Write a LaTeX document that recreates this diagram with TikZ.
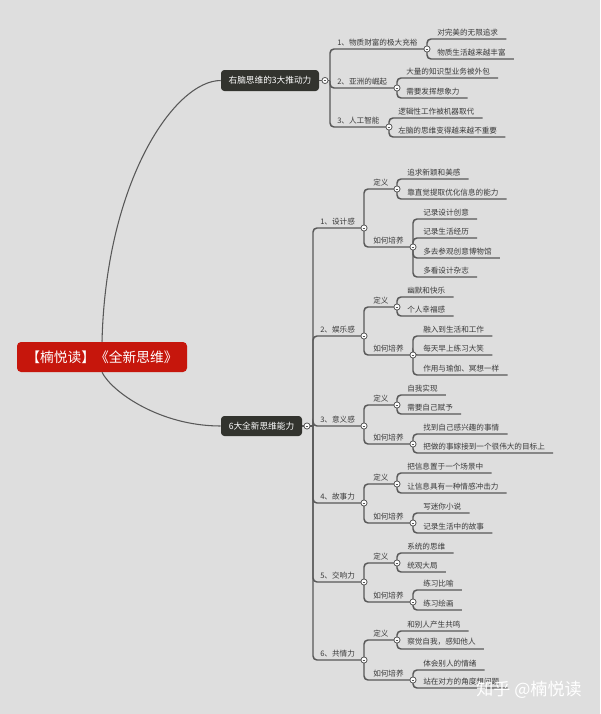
\documentclass[tikz,border=0pt]{standalone}
\usepackage{fontspec}
\setmainfont{Noto Sans CJK SC}
\definecolor{bgc}{RGB}{222,222,222}
\definecolor{lnc}{RGB}{88,88,88}
\definecolor{txc}{RGB}{58,58,58}
\definecolor{topc}{RGB}{50,51,46}
\definecolor{rootc}{RGB}{198,22,12}
\tikzset{
  ln/.style={draw=lnc, line width=1.1pt, rounded corners=3pt},
  curveln/.style={draw=lnc, line width=0.8pt},
  it/.style={anchor=south west, inner xsep=0pt, inner ysep=2.2pt, text=txc, font=\fontsize{5.7pt}{6.8pt}\selectfont},
  dot/.style={circle, draw=lnc, line width=0.6pt, fill=white, inner sep=0pt, minimum size=4.6pt,
    path picture={\draw[lnc, line width=0.45pt] ([xshift=-1.1pt]path picture bounding box.center) -- ([xshift=1.1pt]path picture bounding box.center);}},
  topic/.style={fill=topc, rounded corners=2.5pt, text=white, font=\fontsize{6.5pt}{7.5pt}\selectfont, inner sep=0pt},
  rootbox/.style={fill=rootc, rounded corners=3pt, text=white, font=\fontsize{10.3pt}{12pt}\selectfont, inner sep=0pt, minimum width=127.5pt, minimum height=22.5pt},
}
\begin{document}
\begin{tikzpicture}[x=0.75pt,y=-0.75pt]
\fill[bgc] (0,0) rectangle (600,714);
\useasboundingbox (0,0) rectangle (600,714);

% main nodes
\node[rootbox] (root) at (102,357) {【楠悦读】《全新思维》};
\node[topic, minimum width=73.5pt, minimum height=15.75pt] (R) at (270,80.5) {右脑思维的3大推动力};
\node[topic, minimum width=60.75pt, minimum height=15pt] (S) at (261.5,426) {6大全新思维能力};

% coordinates of junctions
\coordinate (cR) at (325,80.5); \coordinate (bR) at (330,80.5);
\coordinate (cR1) at (427,49); \coordinate (cR2) at (397,88); \coordinate (cR3) at (389,127);
\coordinate (cS) at (307,426); \coordinate (bS) at (313,426);
\coordinate (cD1) at (364,228); \coordinate (cD1a) at (397,189); \coordinate (cD1b) at (413,247);
\coordinate (cD2) at (364,336); \coordinate (cD2a) at (397,307); \coordinate (cD2b) at (413,355);
\coordinate (cD3) at (364,426); \coordinate (cD3a) at (397,405); \coordinate (cD3b) at (413,444);
\coordinate (cD4) at (364,503); \coordinate (cD4a) at (397,484); \coordinate (cD4b) at (413,523);
\coordinate (cD5) at (364,582); \coordinate (cD5a) at (397,563); \coordinate (cD5b) at (413,602);
\coordinate (cD6) at (364,660); \coordinate (cD6a) at (397,640); \coordinate (cD6b) at (413,680);

% right-brain branch texts
\node[it] (r1) at (337,49) {1、物质财富的极大充裕};
\node[it] (r11) at (437,39) {对完美的无限追求};
\node[it] (r12) at (437,59) {物质生活越来越丰富};
\node[it] (r2) at (337,88) {2、亚洲的崛起};
\node[it] (r21) at (406,78) {大量的知识型业务被外包};
\node[it] (r22) at (406,98) {需要发挥想象力};
\node[it] (r3) at (337,127) {3、人工智能};
\node[it] (r31) at (398,118) {逻辑性工作被机器取代};
\node[it] (r32) at (398,137) {左脑的思维变得越来越不重要};

% six abilities texts
\node[it] (d1) at (320,228) {1、设计感};
\node[it] (d1a) at (373,189) {定义};
\node[it] (d1a1) at (407,179) {追求新颖和美感};
\node[it] (d1a2) at (407,199) {靠直觉提取优化信息的能力};
\node[it] (d1b) at (373,247) {如何培养};
\node[it] (d1b1) at (423,219) {记录设计创意};
\node[it] (d1b2) at (423,238) {记录生活经历};
\node[it] (d1b3) at (423,258) {多去参观创意博物馆};
\node[it] (d1b4) at (423,277) {多看设计杂志};

\node[it] (d2) at (320,336) {2、娱乐感};
\node[it] (d2a) at (373,307) {定义};
\node[it] (d2a1) at (407,297) {幽默和快乐};
\node[it] (d2a2) at (407,316) {个人幸福感};
\node[it] (d2b) at (373,355) {如何培养};
\node[it] (d2b1) at (423,336) {融入到生活和工作};
\node[it] (d2b2) at (423,355) {每天早上练习大笑};
\node[it] (d2b3) at (423,375) {作用与瑜伽、冥想一样};

\node[it] (d3) at (320,426) {3、意义感};
\node[it] (d3a) at (373,405) {定义};
\node[it] (d3a1) at (407,395) {自我实现};
\node[it] (d3a2) at (407,414) {需要自己赋予};
\node[it] (d3b) at (373,444) {如何培养};
\node[it] (d3b1) at (423,434) {找到自己感兴趣的事情};
\node[it] (d3b2) at (423,453) {把做的事嫁接到一个很伟大的目标上};

\node[it] (d4) at (320,503) {4、故事力};
\node[it] (d4a) at (373,484) {定义};
\node[it] (d4a1) at (407,473) {把信息置于一个场景中};
\node[it] (d4a2) at (407,493) {让信息具有一种情感冲击力};
\node[it] (d4b) at (373,523) {如何培养};
\node[it] (d4b1) at (423,513) {写迷你小说};
\node[it] (d4b2) at (423,533) {记录生活中的故事};

\node[it] (d5) at (320,582) {5、交响力};
\node[it] (d5a) at (373,563) {定义};
\node[it] (d5a1) at (407,553) {系统的思维};
\node[it] (d5a2) at (407,572) {统观大局};
\node[it] (d5b) at (373,602) {如何培养};
\node[it] (d5b1) at (423,590) {练习比喻};
\node[it] (d5b2) at (423,610) {练习绘画};

\node[it] (d6) at (320,660) {6、共情力};
\node[it] (d6a) at (373,640) {定义};
\node[it] (d6a1) at (407,631) {和别人产生共鸣};
\node[it] (d6a2) at (407,649) {察觉自我，感知他人};
\node[it] (d6b) at (373,680) {如何培养};
\node[it] (d6b1) at (423,670) {体会别人的情绪};
\node[it] (d6b2) at (423,688) {站在对方的角度想问题};

% curves from root
\draw[curveln] (root.north) .. controls (106,180) and (175,80.5) .. (R.west);
\draw[curveln] (root.south) .. controls (112,392) and (160,426) .. (S.west);

% right-brain connectors
\draw[ln] (R.east) -- (bR);
\foreach \k in {1,2,3} { \draw[ln] (bR) |- (cR\k); }
\foreach \p/\n in {cR1/r11, cR1/r12, cR2/r21, cR2/r22, cR3/r31, cR3/r32} {
  \draw[ln] (\p) |- ([xshift=6pt]\n.south east);
}

% six abilities connectors
\draw[ln] (S.east) -- (bS);
\foreach \k in {1,...,6} {
  \draw[ln] (bS) |- (cD\k);
  \draw[ln] (cD\k) |- (cD\k a);
  \draw[ln] (cD\k) |- (cD\k b);
}
\foreach \p/\n in {cD1a/d1a1, cD1a/d1a2, cD1b/d1b1, cD1b/d1b2, cD1b/d1b3, cD1b/d1b4,
                   cD2a/d2a1, cD2a/d2a2, cD2b/d2b1, cD2b/d2b2, cD2b/d2b3,
                   cD3a/d3a1, cD3a/d3a2, cD3b/d3b1, cD3b/d3b2,
                   cD4a/d4a1, cD4a/d4a2, cD4b/d4b1, cD4b/d4b2,
                   cD5a/d5a1, cD5a/d5a2, cD5b/d5b1, cD5b/d5b2,
                   cD6a/d6a1, cD6a/d6a2, cD6b/d6b1, cD6b/d6b2} {
  \draw[ln] (\p) |- ([xshift=6pt]\n.south east);
}

% junction dots
\foreach \c in {cR, cR1, cR2, cR3, cS, cD1, cD1a, cD1b, cD2, cD2a, cD2b, cD3, cD3a, cD3b,
                cD4, cD4a, cD4b, cD5, cD5a, cD5b, cD6, cD6a, cD6b} {
  \node[dot] (dot-\c) at (\c) {};
}

% watermark
\node[text=white, font=\fontsize{12.8pt}{14pt}\selectfont, inner sep=0pt] (wm) at (529,690) {知乎 @楠悦读};
\end{tikzpicture}
\end{document}
